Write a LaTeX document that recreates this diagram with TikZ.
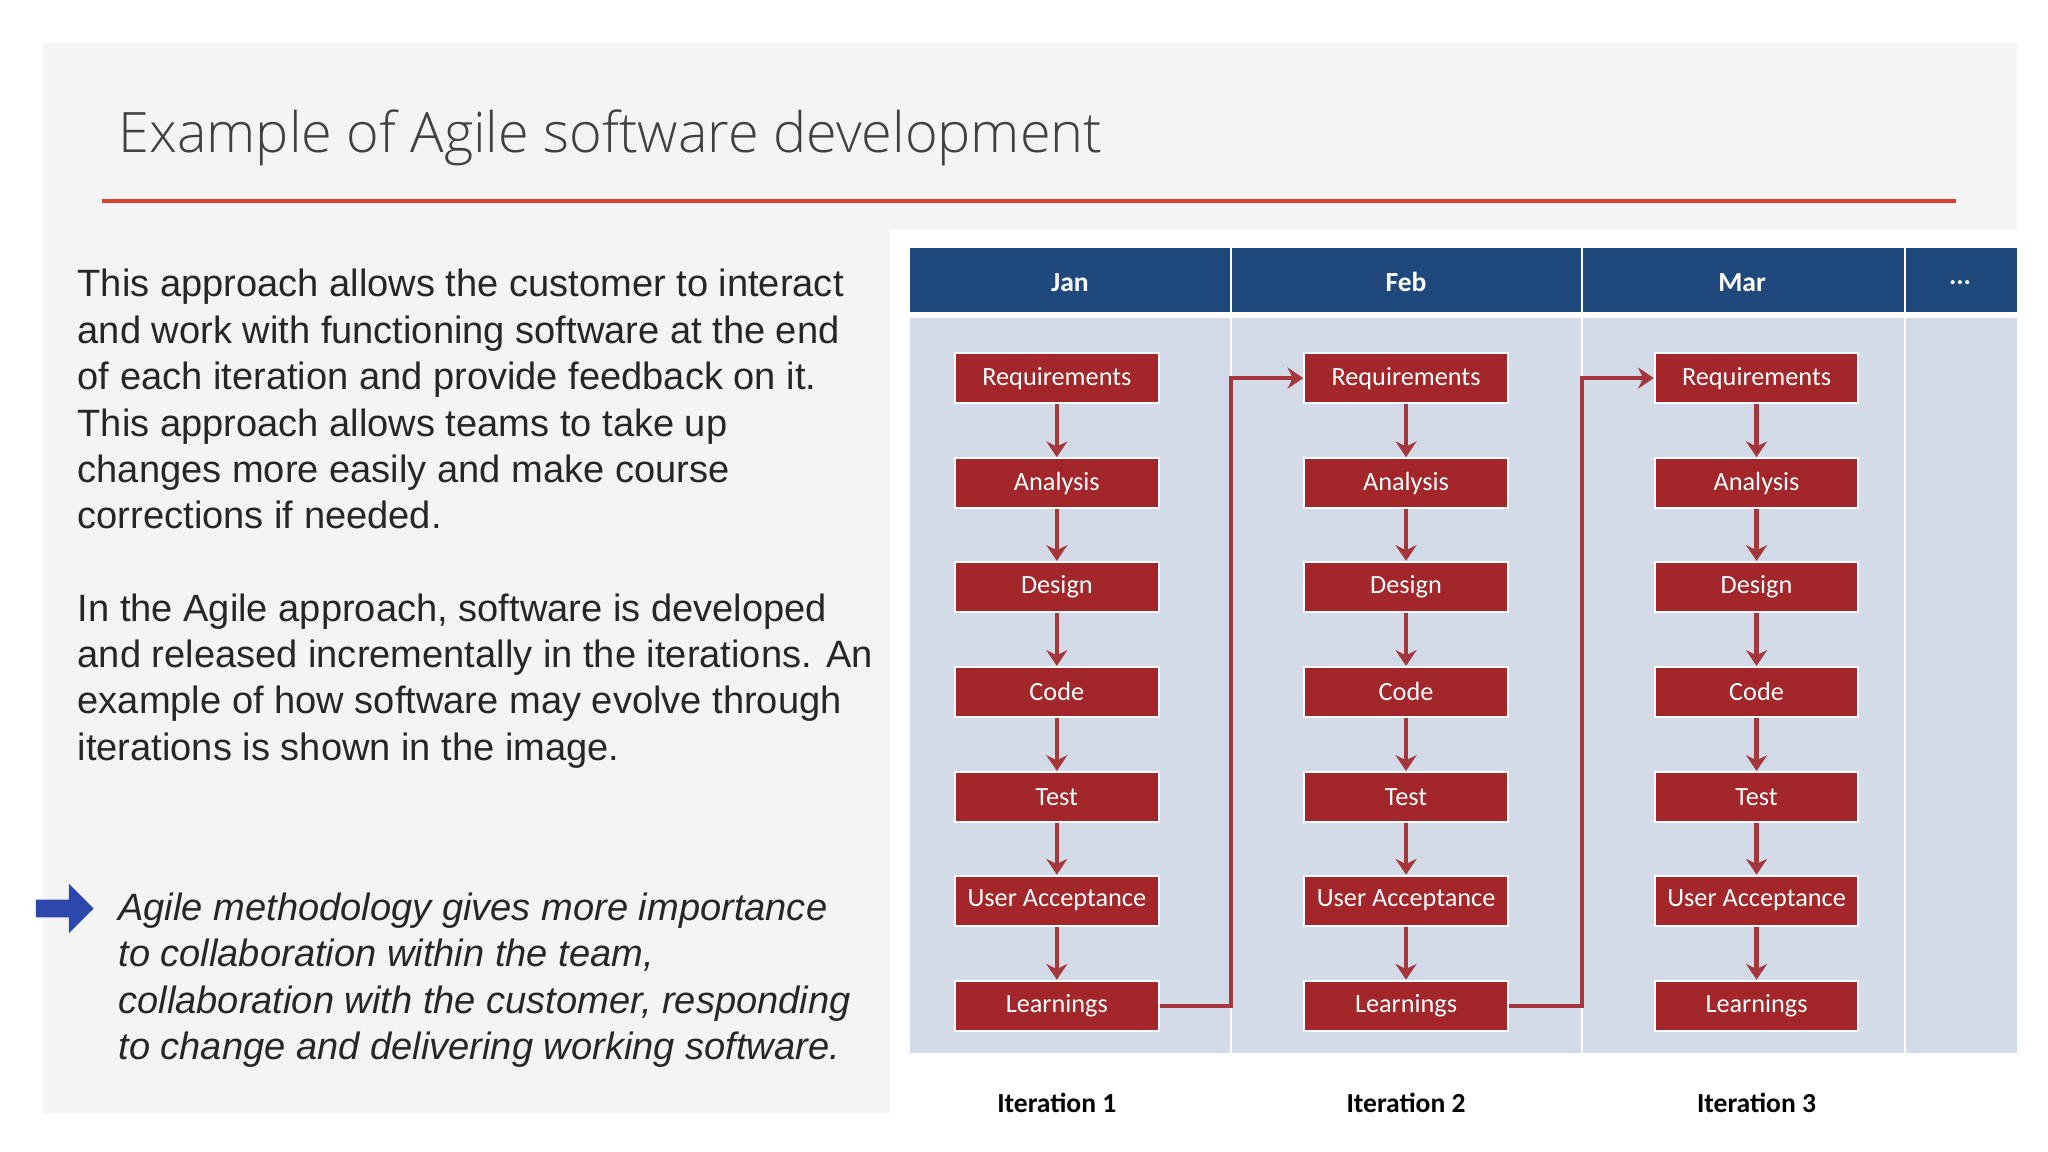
\documentclass[tikz,border=0pt]{standalone}
\usepackage{fontspec}
\setmainfont{Liberation Sans}
\newfontfamily\titlefont{Open Sans Light}
\newfontfamily\calib{Carlito}
\usetikzlibrary{arrows.meta,shapes.arrows}
\definecolor{slidebg}{HTML}{F4F4F4}
\definecolor{hdr}{HTML}{1F497D}
\definecolor{panel}{HTML}{D3DAE8}
\definecolor{boxred}{HTML}{A3262B}
\definecolor{linered}{HTML}{D9412E}
\definecolor{arrred}{HTML}{A3373B}
\begin{document}
\begin{tikzpicture}[x=1pt,y=-1pt,
  stepbox/.style={draw=white,line width=1.5pt,fill=boxred,minimum width=155pt,minimum height=38pt,inner sep=0pt,text=white,font=\calib\fontsize{20}{22}\selectfont},
  hd/.style={text=white,font=\calib\bfseries\fontsize{21}{24}\selectfont},
  it/.style={font=\calib\bfseries\fontsize{21}{24}\selectfont},
  flow/.style={arrred,line width=3.5pt,-{Stealth[length=12pt,width=16pt]}},
  para/.style={anchor=north west,align=left,inner sep=0pt,font=\fontsize{29}{35.3}\selectfont,text=black!85}]
\useasboundingbox (0,0) rectangle (1560,877.5);
\fill[white] (0,0) rectangle (1560,877.5);
\fill[slidebg] (33,33) rectangle (1536,848);
\node[anchor=west,inner sep=0pt,font=\titlefont\fontsize{42.5}{50}\selectfont,text=black!75] (title) at (90,105) {Example of Agile software development};
\draw[linered,line width=2.5pt] (78,153) -- (1490,153);
\node[para] (p1) at (59,205) {This approach allows the customer to interact\\and work with functioning software at the end\\of each iteration and provide feedback on it.\\This approach allows teams to take up\\changes more easily and make course\\corrections if needed.};
\node[para] (p2) at (59,452) {In the Agile approach, software is developed\\and released incrementally in the iterations. An\\example of how software may evolve through\\iterations is shown in the image.};
\node[para,font=\itshape\fontsize{29}{35.3}\selectfont] (p3) at (90,680) {Agile methodology gives more importance\\to collaboration within the team,\\collaboration with the customer, responding\\to change and delivering working software.};
\node[single arrow,fill=hdr!70!blue!90!white,draw=none,minimum height=44pt,minimum width=38pt,single arrow head extend=4pt,inner sep=2pt] (barrow) at (46,692) {};
\fill[white] (678,175) rectangle (1536,877.5);
\fill[hdr] (693,189) rectangle (1536,238);
\fill[panel] (693,242) rectangle (1536,802);
\foreach \x in {938,1205,1451}{\draw[white,line width=1.5pt] (\x,189) -- (\x,802);}
\node[hd] (h1) at (815,215) {Jan};
\node[hd] (h2) at (1071,215) {Feb};
\node[hd] (h3) at (1327,215) {Mar};
\node[hd] (h4) at (1493,215) {...};
\foreach \c/\x in {1/805,2/1071,3/1338}{
  \foreach \n/\t/\y in {1/Requirements/288,2/Analysis/368,3/Design/447,4/Code/527,5/Test/607,6/User Acceptance/686,7/Learnings/766}{
    \node[stepbox] (b\c\n) at (\x,\y) {\t};
  }
  \foreach \a/\b in {1/2,2/3,3/4,4/5,5/6,6/7}{\draw[flow] (b\c\a) -- (b\c\b);}
}
\node[it] (i1) at (805,840) {Iteration 1};
\node[it] (i2) at (1071,840) {Iteration 2};
\node[it] (i3) at (1338,840) {Iteration 3};
\draw[flow,line width=3pt] (b17.east) -- (938,766) -- (938,288) -- (b21.west);
\draw[flow,line width=3pt] (b27.east) -- (1205,766) -- (1205,288) -- (b31.west);
\end{tikzpicture}
\end{document}
